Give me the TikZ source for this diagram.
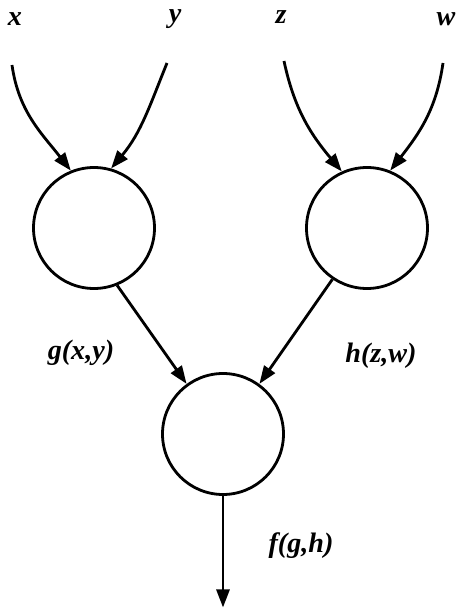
\documentclass[tikz,border=0pt]{standalone}
\usepackage{fontspec}
\setmainfont{Liberation Serif}
\usetikzlibrary{arrows.meta}

\tikzset{
    unit/.style={draw, circle, line width=1.6pt, minimum size=2.42cm, inner sep=0pt},
    wire/.style={line width=1.6pt, -{Triangle[length=0.36cm, width=0.26cm]}},
    var/.style={font=\fontsize{16}{18}\selectfont\bfseries\itshape, inner sep=1pt}
}

\begin{document}
\begin{tikzpicture}
    % Fix the page to the size of the figure
    \useasboundingbox (0,0) rectangle (9.2,12.2);

    % The three units
    \node[unit] (g) at (1.88,7.64) {};
    \node[unit] (h) at (7.34,7.64) {};
    \node[unit] (f) at (4.46,3.52) {};

    % Inputs
    \node[var] (x) at (0.30,11.82) {x};
    \node[var] (y) at (3.50,11.82) {y};
    \node[var] (z) at (5.62,11.86) {z};
    \node[var] (w) at (8.92,11.82) {w};

    % Start points of the input wires
    \coordinate (xin) at (0.24,10.90);
    \coordinate (yin) at (3.34,10.94);
    \coordinate (zin) at (5.68,10.98);
    \coordinate (win) at (8.86,10.94);
    \coordinate (fout) at (4.46,0.05);

    % Wires into the first layer
    \draw[wire] (xin) to[out=-82, in=128] (g.112);
    \draw[wire] (yin) to[out=-112, in=50] (g.74);
    \draw[wire] (zin) to[out=-78, in=130] (h.114);
    \draw[wire] (win) to[out=-98, in=52] (h.68);

    % Wires into the second layer
    \draw[wire] (g.-68) -- (f.126);
    \draw[wire] (h.-124) -- (f.54);

    % Output
    \draw[wire] (f.south) -- (fout);

    % Labels of the units
    \node[var] (gl) at (1.62,5.14) {g(x,y)};
    \node[var] (hl) at (7.62,5.08) {h(z,w)};
    \node[var] (fl) at (6.02,1.28) {f(g,h)};
\end{tikzpicture}
\end{document}
